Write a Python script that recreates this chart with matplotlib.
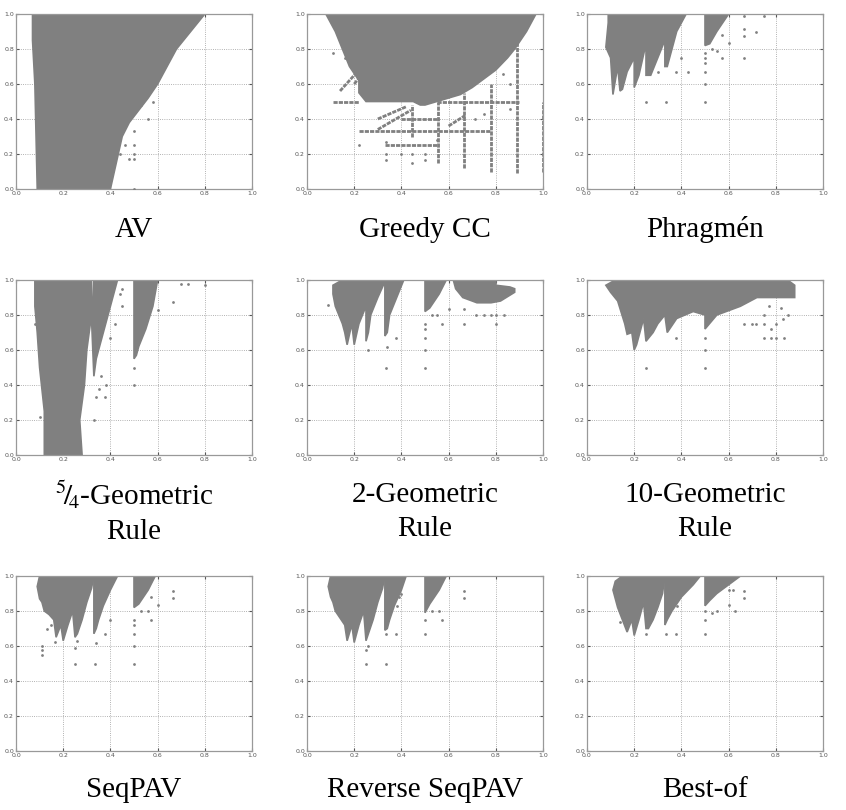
import matplotlib
matplotlib.use("Agg")
import matplotlib.pyplot as plt

plt.rcParams["mathtext.fontset"] = "stix"

GRAY = "#808080"

titles = ["AV", "Greedy CC", "Phragmén",
          "${}^{5}\\!/\\!{}_{4}$-Geometric\nRule", "2-Geometric\nRule", "10-Geometric\nRule",
          "SeqPAV", "Reverse SeqPAV", "Best-of"]

# dense regions of points, outlined as polygons (x list, y list)
av_polys = [
    ([0.07, 0.80, 0.74, 0.68, 0.64, 0.60, 0.56, 0.52, 0.48, 0.45, 0.42, 0.40, 0.09, 0.085, 0.08, 0.07],
     [1.00, 1.00, 0.90, 0.80, 0.70, 0.60, 0.52, 0.45, 0.38, 0.30, 0.12, 0.00, 0.00, 0.30, 0.60, 0.85]),
]
av_pts_x = [0.50, 0.50, 0.50, 0.48, 0.50, 0.56, 0.58, 0.74, 0.50, 0.53, 0.44, 0.46]
av_pts_y = [0.33, 0.25, 0.20, 0.17, 0.17, 0.40, 0.50, 0.92, 0.00, 0.48, 0.20, 0.25]

gcc_polys = [
    ([0.08, 0.97, 0.93, 0.88, 0.85, 0.80, 0.75, 0.70, 0.65, 0.60, 0.55, 0.50, 0.48, 0.45, 0.25, 0.22, 0.22, 0.18, 0.15, 0.12],
     [1.00, 1.00, 0.90, 0.80, 0.75, 0.68, 0.63, 0.58, 0.54, 0.52, 0.50, 0.48, 0.48, 0.50, 0.50, 0.55, 0.62, 0.70, 0.80, 0.90]),
]
gcc_segs = [
    ((1.000, 1.000), (0.10, 0.50)), ((0.889, 0.889), (0.09, 0.85)),
    ((0.778, 0.778), (0.10, 0.60)), ((0.667, 0.667), (0.12, 0.55)),
    ((0.556, 0.556), (0.15, 0.50)), ((0.444, 0.444), (0.30, 0.48)),
    ((0.11, 0.22), (0.50, 0.50)), ((0.55, 0.90), (0.50, 0.50)),
    ((0.22, 0.78), (0.333, 0.333)), ((0.40, 0.56), (0.40, 0.40)),
    ((0.33, 0.56), (0.25, 0.25)), ((0.14, 0.22), (0.56, 0.68)),
    ((0.30, 0.44), (0.34, 0.45)), ((0.30, 0.42), (0.40, 0.47)),
    ((0.60, 0.67), (0.36, 0.42)), ((0.20, 0.26), (0.60, 0.70)),
    ((0.86, 0.95), (0.86, 0.98)),
]
gcc_pts_x = [0.22, 0.333, 0.333, 0.333, 0.444, 0.444, 0.40, 0.50, 0.50, 0.55, 0.86, 0.71, 0.75, 0.11, 0.16, 0.86, 0.83]
gcc_pts_y = [0.25, 0.167, 0.20, 0.27, 0.15, 0.20, 0.20, 0.167, 0.20, 0.28, 0.46, 0.40, 0.43, 0.78, 0.75, 0.60, 0.66]

phr_polys = [
    ([0.09, 0.42, 0.38, 0.36, 0.34, 0.33, 0.33, 0.30, 0.27, 0.25, 0.25, 0.22, 0.20, 0.20, 0.17, 0.15, 0.14, 0.13, 0.11, 0.10, 0.08, 0.09],
     [1.00, 1.00, 0.90, 0.80, 0.70, 0.70, 0.85, 0.75, 0.65, 0.65, 0.83, 0.65, 0.58, 0.75, 0.67, 0.57, 0.56, 0.70, 0.54, 0.75, 0.81, 0.95]),
    ([0.50, 0.60, 0.55, 0.52, 0.50], [1.00, 1.00, 0.90, 0.83, 0.82]),
]
phr_pts_x = [0.25, 0.333, 0.50, 0.50, 0.50, 0.50, 0.50, 0.40, 0.43, 0.375, 0.30, 0.571, 0.667, 0.60, 0.667, 0.667, 0.714, 0.75, 0.667, 0.57, 0.50, 0.53, 0.55]
phr_pts_y = [0.50, 0.50, 0.50, 0.60, 0.667, 0.75, 0.72, 0.75, 0.667, 0.667, 0.667, 0.75, 0.75, 0.833, 0.875, 0.917, 0.90, 0.99, 0.99, 0.88, 0.78, 0.80, 0.79]

g54_polys = [
    ([0.08, 0.32, 0.32, 0.30, 0.29, 0.27, 0.28, 0.12, 0.12, 0.10, 0.09, 0.08],
     [1.00, 1.00, 0.80, 0.60, 0.40, 0.20, 0.00, 0.00, 0.25, 0.50, 0.70, 0.85]),
    ([0.33, 0.43, 0.40, 0.37, 0.34, 0.33, 0.32], [1.00, 1.00, 0.85, 0.70, 0.55, 0.45, 0.78]),
    ([0.50, 0.60, 0.58, 0.55, 0.52, 0.51, 0.50], [1.00, 1.00, 0.85, 0.72, 0.62, 0.57, 0.55]),
]
g54_pts_x = [0.50, 0.50, 0.70, 0.73, 0.80, 0.667, 0.60, 0.45, 0.44, 0.40, 0.38, 0.375, 0.36, 0.33, 0.34, 0.35, 0.10, 0.08, 0.42, 0.45]
g54_pts_y = [0.50, 0.40, 0.98, 0.98, 0.97, 0.875, 0.83, 0.95, 0.92, 0.667, 0.40, 0.33, 0.45, 0.20, 0.33, 0.375, 0.22, 0.75, 0.75, 0.85]

g2_polys = [
    ([0.11, 0.15, 0.41, 0.38, 0.35, 0.34, 0.33, 0.33, 0.30, 0.27, 0.26, 0.25, 0.25, 0.22, 0.20, 0.19, 0.17, 0.16, 0.15, 0.12, 0.11],
     [0.97, 1.00, 1.00, 0.90, 0.80, 0.70, 0.68, 0.99, 0.90, 0.80, 0.70, 0.65, 0.85, 0.75, 0.63, 0.75, 0.63, 0.70, 0.75, 0.85, 0.92]),
    ([0.50, 0.59, 0.56, 0.52, 0.50], [1.00, 1.00, 0.92, 0.84, 0.82]),
    ([0.62, 0.80, 0.80, 0.86, 0.88, 0.88, 0.82, 0.78, 0.72, 0.66, 0.63],
     [1.00, 1.00, 0.97, 0.96, 0.95, 0.93, 0.88, 0.87, 0.87, 0.90, 0.95]),
]
g2_pts_x = [0.333, 0.50, 0.50, 0.50, 0.50, 0.50, 0.34, 0.375, 0.571, 0.667, 0.80, 0.60, 0.667, 0.714, 0.75, 0.778, 0.80, 0.833, 0.09, 0.55, 0.26, 0.53]
g2_pts_y = [0.50, 0.50, 0.60, 0.667, 0.72, 0.75, 0.62, 0.667, 0.75, 0.75, 0.75, 0.833, 0.833, 0.80, 0.80, 0.80, 0.80, 0.80, 0.86, 0.80, 0.60, 0.80]

g10_polys = [
    ([0.08, 0.12, 0.85, 0.88, 0.88, 0.80, 0.72, 0.65, 0.55, 0.50, 0.50, 0.45, 0.38, 0.34, 0.33, 0.30, 0.28, 0.25, 0.24, 0.21, 0.20, 0.19, 0.17, 0.16, 0.13, 0.10],
     [0.97, 1.00, 1.00, 0.97, 0.90, 0.90, 0.90, 0.85, 0.80, 0.72, 0.80, 0.82, 0.78, 0.70, 0.80, 0.75, 0.70, 0.65, 0.78, 0.63, 0.60, 0.70, 0.69, 0.75, 0.88, 0.93]),
]
g10_pts_x = [0.25, 0.50, 0.50, 0.50, 0.375, 0.667, 0.70, 0.714, 0.75, 0.778, 0.80, 0.833, 0.75, 0.78, 0.80, 0.83, 0.75, 0.85, 0.77, 0.82]
g10_pts_y = [0.50, 0.50, 0.60, 0.667, 0.667, 0.75, 0.75, 0.75, 0.667, 0.667, 0.667, 0.667, 0.75, 0.72, 0.75, 0.78, 0.80, 0.80, 0.85, 0.84]

seq_polys = [
    ([0.09, 0.10, 0.33, 0.32, 0.30, 0.28, 0.26, 0.25, 0.24, 0.22, 0.20, 0.19, 0.17, 0.16, 0.14, 0.12, 0.11, 0.10],
     [0.94, 1.00, 1.00, 0.93, 0.85, 0.75, 0.67, 0.65, 0.80, 0.72, 0.63, 0.72, 0.65, 0.75, 0.78, 0.80, 0.85, 0.87]),
    ([0.33, 0.43, 0.40, 0.37, 0.35, 0.34, 0.33], [1.00, 1.00, 0.92, 0.83, 0.75, 0.70, 0.67]),
    ([0.50, 0.59, 0.56, 0.52, 0.50], [1.00, 1.00, 0.92, 0.84, 0.82]),
]
seq_pts_x = [0.25, 0.333, 0.50, 0.50, 0.50, 0.50, 0.50, 0.40, 0.375, 0.34, 0.571, 0.60, 0.667, 0.667, 0.57, 0.11, 0.11, 0.11, 0.167, 0.25, 0.26, 0.53, 0.56, 0.13, 0.15]
seq_pts_y = [0.50, 0.50, 0.50, 0.60, 0.667, 0.72, 0.75, 0.75, 0.667, 0.62, 0.75, 0.833, 0.875, 0.917, 0.88, 0.55, 0.58, 0.60, 0.625, 0.59, 0.63, 0.80, 0.80, 0.70, 0.72]

rev_polys = [
    ([0.09, 0.10, 0.33, 0.32, 0.30, 0.28, 0.26, 0.25, 0.24, 0.22, 0.20, 0.19, 0.17, 0.16, 0.14, 0.12, 0.11, 0.10],
     [0.94, 1.00, 1.00, 0.93, 0.85, 0.75, 0.67, 0.63, 0.80, 0.72, 0.62, 0.72, 0.63, 0.72, 0.76, 0.80, 0.85, 0.88]),
    ([0.33, 0.42, 0.40, 0.37, 0.35, 0.34, 0.33], [1.00, 1.00, 0.92, 0.83, 0.75, 0.70, 0.69]),
    ([0.50, 0.59, 0.56, 0.52, 0.50], [1.00, 1.00, 0.92, 0.84, 0.79]),
]
rev_pts_x = [0.25, 0.333, 0.50, 0.50, 0.375, 0.333, 0.571, 0.667, 0.667, 0.25, 0.26, 0.56, 0.38, 0.53, 0.40, 0.39]
rev_pts_y = [0.50, 0.50, 0.667, 0.75, 0.667, 0.667, 0.75, 0.875, 0.917, 0.58, 0.60, 0.80, 0.83, 0.80, 0.90, 0.88]

best_polys = [
    ([0.11, 0.12, 0.15, 0.33, 0.32, 0.30, 0.28, 0.26, 0.25, 0.24, 0.22, 0.20, 0.19, 0.17, 0.15, 0.13],
     [0.92, 0.97, 1.00, 1.00, 0.90, 0.82, 0.75, 0.70, 0.70, 0.85, 0.75, 0.66, 0.75, 0.68, 0.75, 0.82]),
    ([0.33, 0.48, 0.45, 0.40, 0.36, 0.34, 0.33], [1.00, 1.00, 0.95, 0.88, 0.80, 0.75, 0.72]),
    ([0.50, 0.65, 0.60, 0.55, 0.52, 0.50], [1.00, 1.00, 0.95, 0.90, 0.86, 0.83]),
]
best_pts_x = [0.25, 0.333, 0.375, 0.50, 0.50, 0.50, 0.60, 0.625, 0.667, 0.667, 0.55, 0.53, 0.38, 0.60, 0.62, 0.14]
best_pts_y = [0.667, 0.667, 0.667, 0.667, 0.75, 0.80, 0.833, 0.80, 0.917, 0.875, 0.80, 0.79, 0.83, 0.92, 0.92, 0.74]

panels = [
    (av_polys, [], av_pts_x, av_pts_y),
    (gcc_polys, gcc_segs, gcc_pts_x, gcc_pts_y),
    (phr_polys, [], phr_pts_x, phr_pts_y),
    (g54_polys, [], g54_pts_x, g54_pts_y),
    (g2_polys, [], g2_pts_x, g2_pts_y),
    (g10_polys, [], g10_pts_x, g10_pts_y),
    (seq_polys, [], seq_pts_x, seq_pts_y),
    (rev_polys, [], rev_pts_x, rev_pts_y),
    (best_polys, [], best_pts_x, best_pts_y),
]

W, H = 846, 810
col_left = [16, 307, 587]
row_top = [14, 280, 576]
ax_w, ax_h = 236, 175
title_y = [230, 512, 790]

fig = plt.figure(figsize=(W / 100, H / 100), dpi=100)

for i, (polys, segs, px, py) in enumerate(panels):
    r, c = divmod(i, 3)
    ax = fig.add_axes([col_left[c] / W, 1 - (row_top[r] + ax_h) / H, ax_w / W, ax_h / H])
    for xs, ys in polys:
        ax.fill(xs, ys, color=GRAY, lw=1.2, ec=GRAY, zorder=2)
    for xs, ys in segs:
        ax.plot(xs, ys, color=GRAY, lw=2.0, ls=(0, (1.5, 0.4)), zorder=2)
    ax.plot(px, py, "o", color=GRAY, ms=2.0, mew=0, zorder=3)
    ax.set_xlim(0, 1)
    ax.set_ylim(0, 1)
    ax.set_xticks([0, 0.2, 0.4, 0.6, 0.8, 1.0])
    ax.set_yticks([0, 0.2, 0.4, 0.6, 0.8, 1.0])
    ax.grid(True, ls=":", color="#999999", lw=0.6, zorder=0)
    ax.tick_params(direction="in", length=2, labelsize=4.5, colors="#555555",
                   top=True, right=True, pad=1.5)
    for s in ax.spines.values():
        s.set_color("#999999")
        s.set_linewidth(0.9)
    fig.text((col_left[c] + ax_w / 2) / W, 1 - title_y[r] / H, titles[i],
             ha="center", va="center", fontsize=21, family="Liberation Serif",
             linespacing=1.4)

fig.savefig("out.png", dpi=100)
